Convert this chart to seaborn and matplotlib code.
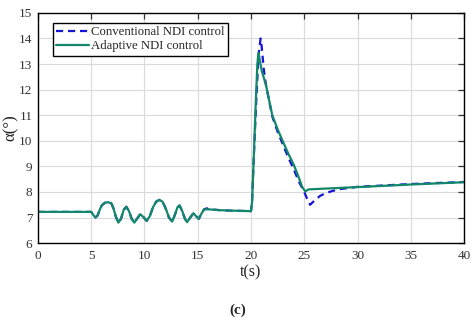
import matplotlib
matplotlib.use("Agg")
import matplotlib.pyplot as plt
import seaborn as sns
import pandas as pd

# ---- data ----
t_adaptive = [0, 5.0, 5.2, 5.4, 5.6, 5.8, 6.0, 6.3, 6.6, 6.9, 7.1, 7.3, 7.55, 7.8, 8.05, 8.3,
              8.55, 8.8, 9.05, 9.3, 9.6, 9.9, 10.2, 10.5, 10.8, 11.1, 11.4, 11.7, 12.0, 12.3,
              12.6, 12.85, 13.1, 13.3, 13.55, 13.8, 14.0, 14.3, 14.6, 14.85, 15.1, 15.35, 15.6,
              16.0, 17.0, 18.0, 19.0, 20.0, 20.1, 20.25, 20.45, 20.6, 20.7, 20.85, 21.0, 21.4,
              22.0, 22.5, 23.0, 23.5, 24.0, 24.5, 24.8, 25.1, 25.4, 30.0, 35.0, 40.0]
a_adaptive = [7.22, 7.22, 7.10, 7.00, 7.08, 7.30, 7.48, 7.58, 7.60, 7.55, 7.35, 7.05, 6.80, 6.95,
              7.30, 7.42, 7.25, 6.95, 6.80, 6.95, 7.13, 7.02, 6.87, 7.05, 7.40, 7.62, 7.69, 7.62,
              7.35, 7.00, 6.84, 7.10, 7.40, 7.47, 7.25, 6.95, 6.82, 7.00, 7.17, 7.05, 6.95, 7.15,
              7.32, 7.32, 7.29, 7.27, 7.26, 7.25, 7.60, 9.25, 11.50, 13.00, 13.45, 13.10, 12.75,
              12.19, 11.00, 10.45, 9.97, 9.50, 9.08, 8.55, 8.20, 8.02, 8.10, 8.19, 8.29, 8.38]

t_conv = [0, 5.0, 5.2, 5.4, 5.6, 5.8, 6.0, 6.3, 6.6, 6.9, 7.1, 7.3, 7.55, 7.8, 8.05, 8.3,
          8.55, 8.8, 9.05, 9.3, 9.6, 9.9, 10.2, 10.5, 10.8, 11.1, 11.4, 11.7, 12.0, 12.3,
          12.6, 12.85, 13.1, 13.3, 13.55, 13.8, 14.0, 14.3, 14.6, 14.85, 15.1, 15.35, 15.6,
          15.85, 16.0, 17.0, 18.0, 19.0, 20.0, 20.1, 20.25, 20.5, 20.7, 20.9, 21.0, 21.2, 21.4,
          22.0, 22.5, 23.0, 23.5, 24.0, 24.5, 25.0, 25.3, 25.55, 26.0, 26.5, 27.0, 27.65,
          28.5, 30.0, 35.0, 40.0]
a_conv = [7.22, 7.22, 7.10, 7.00, 7.08, 7.30, 7.48, 7.58, 7.60, 7.55, 7.35, 7.05, 6.80, 6.95,
          7.30, 7.42, 7.25, 6.95, 6.80, 6.95, 7.13, 7.02, 6.87, 7.05, 7.40, 7.62, 7.69, 7.62,
          7.35, 7.00, 6.84, 7.10, 7.40, 7.47, 7.25, 6.95, 6.82, 7.00, 7.17, 7.05, 6.95, 7.15,
          7.32, 7.36, 7.33, 7.29, 7.27, 7.26, 7.25, 7.60, 9.20, 11.60, 13.30, 14.00, 13.70,
          12.80, 12.20, 10.95, 10.35, 9.85, 9.35, 8.90, 8.40, 8.00, 7.70, 7.50, 7.68, 7.85,
          7.95, 8.04, 8.12, 8.20, 8.31, 8.39]

x_ticks = [0, 5, 10, 15, 20, 25, 30, 35, 40]
y_ticks = [6, 7, 8, 9, 10, 11, 12, 13, 14, 15]
label_conv = "Conventional NDI control"
label_adapt = "Adaptive NDI control"

df_conv = pd.DataFrame({"t": t_conv, "alpha": a_conv})
df_adapt = pd.DataFrame({"t": t_adaptive, "alpha": a_adaptive})

sns.set_theme(style="white")
plt.rcParams["font.family"] = ["Liberation Serif", "DejaVu Serif"]

fig = plt.figure(figsize=(4.74, 3.22), dpi=100)
ax = fig.add_axes([0.080, 0.245, 0.899, 0.715])

blue = "#1414d8"
green = "#13876a"

sns.lineplot(data=df_conv, x="t", y="alpha", ax=ax, color=blue, linewidth=1.6,
             linestyle=(0, (3.2, 2.2)), label=label_conv, estimator=None, sort=False)
sns.lineplot(data=df_adapt, x="t", y="alpha", ax=ax, color=green, linewidth=1.6,
             label=label_adapt, estimator=None, sort=False)

ax.set_xlim(0, 40)
ax.set_ylim(6, 15)
ax.set_xticks(x_ticks)
ax.set_yticks(y_ticks)
ax.grid(True, color="#dadada", linewidth=0.8)
ax.tick_params(direction="in", length=4, width=0.9, top=True, right=True,
               labelsize=9.5, colors="#333333", pad=4)
ax.tick_params(axis="x", pad=5)
for s in ax.spines.values():
    s.set_color("black")
    s.set_linewidth(1.0)

ax.set_xlabel("t(s)", fontsize=11.5, labelpad=2, color="#222222")
ax.set_ylabel("α(°)", fontsize=12, color="#222222")
ax.yaxis.set_label_coords(-0.045, 0.5)

leg = ax.legend(loc="upper left", bbox_to_anchor=(0.035, 0.955), borderaxespad=0,
                fontsize=9.2, frameon=True, fancybox=False, handlelength=2.6,
                handletextpad=0.15, borderpad=0.25, labelspacing=0.15)
leg.get_frame().set_edgecolor("black")
leg.get_frame().set_linewidth(1.0)
leg.get_frame().set_alpha(1)

fig.text(0.502, 0.037, "(c)", ha="center", va="center", fontsize=11, fontweight="bold")

fig.savefig("out.png", dpi=100)
